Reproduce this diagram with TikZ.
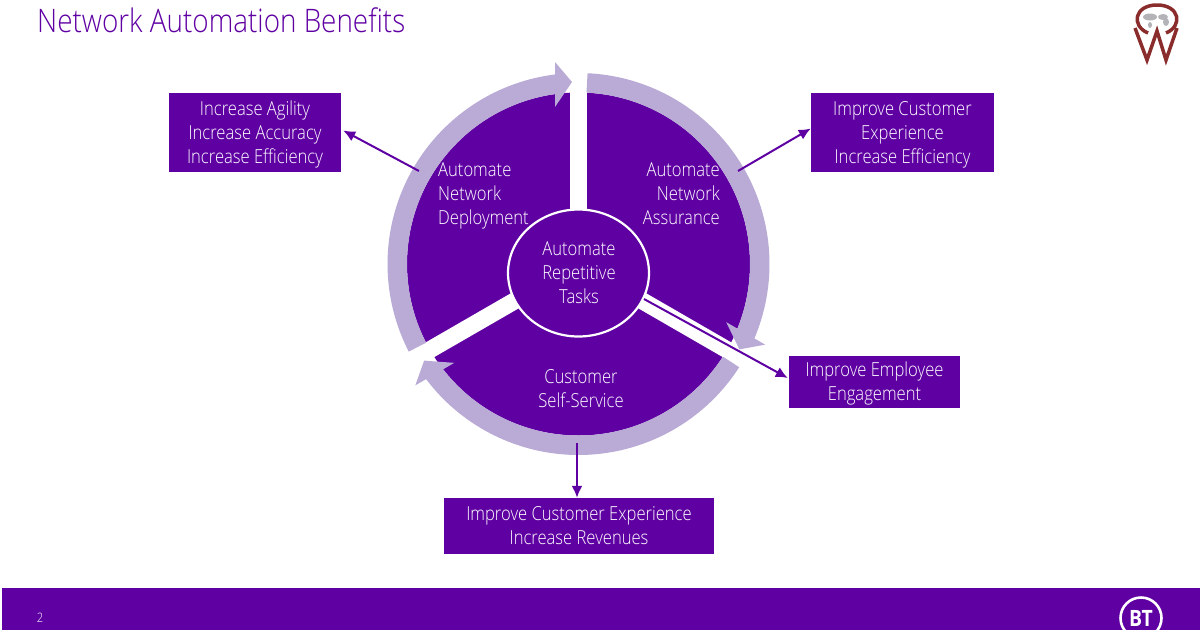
\documentclass[tikz,border=0pt]{standalone}
\usepackage{fontspec}
\setmainfont{Open Sans Light}[FakeStretch=0.86,BoldFont={Open Sans Bold}]
\usetikzlibrary{calc,arrows.meta,shapes.geometric}
\definecolor{btpurple}{HTML}{5F00A3}
\definecolor{btlight}{HTML}{B9ABD6}
\definecolor{owred}{HTML}{8A2C2C}
\definecolor{owgrey}{HTML}{B4B4B8}
\newcommand{\lowerfirst}{\rule{0pt}{18.5pt}}
\tikzset{
  benefit/.style={fill=btpurple,text=white,align=center,inner sep=0pt,font=\fontsize{19.3}{24}\selectfont},
  wheeltext/.style={text=white,font=\fontsize{19.3}{24}\selectfont,inner sep=0pt},
  link/.style={draw=btpurple,line width=2pt,-{Latex[length=12pt,width=11pt]}},
  gapstrip/.style={fill=white,draw=none},
  ringhead/.style={fill=btlight,draw=none},
  ringarc/.style={draw=btlight,line width=19.5pt},
  owline/.style={draw=owred,line width=3.5pt,line join=miter}
}
\begin{document}
\begin{tikzpicture}[x=1pt,y=-1pt]
\useasboundingbox (0,0) rectangle (1200,630);
\coordinate (wc) at (578.5,264);
% wheel
\fill[btpurple] (wc) circle[radius=171.5];
\foreach \a in {0,-120,-240}{
  \begin{scope}[rotate around={\a:(wc)}]
    \fill[gapstrip] (570,60) rectangle (587,264);
  \end{scope}
}
\foreach \a in {0,-120,-240}{
  \begin{scope}[rotate around={\a:(wc)}]
    \draw[ringarc] ($(wc)+(-87.3:181.25)$) arc[start angle=-87.3,end angle=23,radius=181.25];
    \fill[ringhead] (555,62) -- (572,82) -- (555,107) -- cycle;
  \end{scope}
}
% hub
\node[draw=white,line width=2.2pt,fill=btpurple,ellipse,minimum width=141pt,minimum height=127pt,inner sep=0pt] (hub) at (578.5,273) {};
\node[wheeltext,align=center] (hubt) at (579,273) {Automate\\Repetitive\\Tasks};
\node[wheeltext,align=left,anchor=west] (dep) at (438,195.5) {Automate\\Network\\Deployment};
\node[wheeltext,align=right,anchor=east] (ass) at (720,193.5) {Automate\\Network\\Assurance};
\node[wheeltext,align=center] (self) at (581,388.5) {Customer\\Self-Service};
% benefit boxes
\node[benefit,minimum width=172pt,minimum height=79pt] (b1) at (255,132.5) {\lowerfirst Increase Agility\\Increase Accuracy\\Increase Efficiency};
\node[benefit,minimum width=183pt,minimum height=79pt] (b2) at (902.5,132.5) {\lowerfirst Improve Customer\\Experience\\Increase Efficiency};
\node[benefit,minimum width=171pt,minimum height=52pt] (b3) at (874.5,382) {\lowerfirst Improve Employee\\Engagement};
\node[benefit,minimum width=270pt,minimum height=56pt] (b4) at (579,526) {Improve Customer Experience\\Increase Revenues};
% connectors
\coordinate (f1) at (419,171);
\coordinate (f2) at (738,171);
\coordinate (f3) at (644,299);
\coordinate (f4) at (577,443);
\draw[link] (f1) -- ($(b1.east)+(2,-2)$);
\draw[link] (f2) -- ($(b2.west)+(0,-4)$);
\draw[link] (f3) -- ($(b3.west)+(-1,-4)$);
\draw[link] (f4) -- (b4.north -| f4);
% title
\node[anchor=base west,inner sep=0pt,text=btpurple,font=\fontsize{32.4}{36}\selectfont] (title) at (37,32) {Network Automation Benefits};
% footer
\fill[btpurple] (2,588) rectangle (1200,630);
\node[text=white,font=\fontsize{13}{14}\selectfont,inner sep=0pt] (pg) at (40,618) {2};
\begin{scope}
  \clip (1100,588) rectangle (1200,630);
  \draw[white,line width=2.6pt] (1141,618) circle[radius=20.5];
\end{scope}
\node[text=white,font=\fontsize{22.5}{24}\selectfont\bfseries,inner sep=0pt] (bt) at (1141,618) {BT};
% OW logo
\fill[owgrey] (1150,17) ellipse[x radius=7,y radius=3.5];
\fill[owgrey] (1163,17) ellipse[x radius=5,y radius=3];
\fill[owgrey] (1166,22) ellipse[x radius=3,y radius=4];
\fill[owgrey] (1150,25) ellipse[x radius=2,y radius=3];
\draw[owline] (1148,33) .. controls (1131,26) and (1134,5) .. (1157,5) .. controls (1180,5) and (1183,26) .. (1166,33);
\draw[owline] (1135,28) -- (1147,60) -- (1157,31) -- (1166,60) -- (1177,28);
\end{tikzpicture}
\end{document}
